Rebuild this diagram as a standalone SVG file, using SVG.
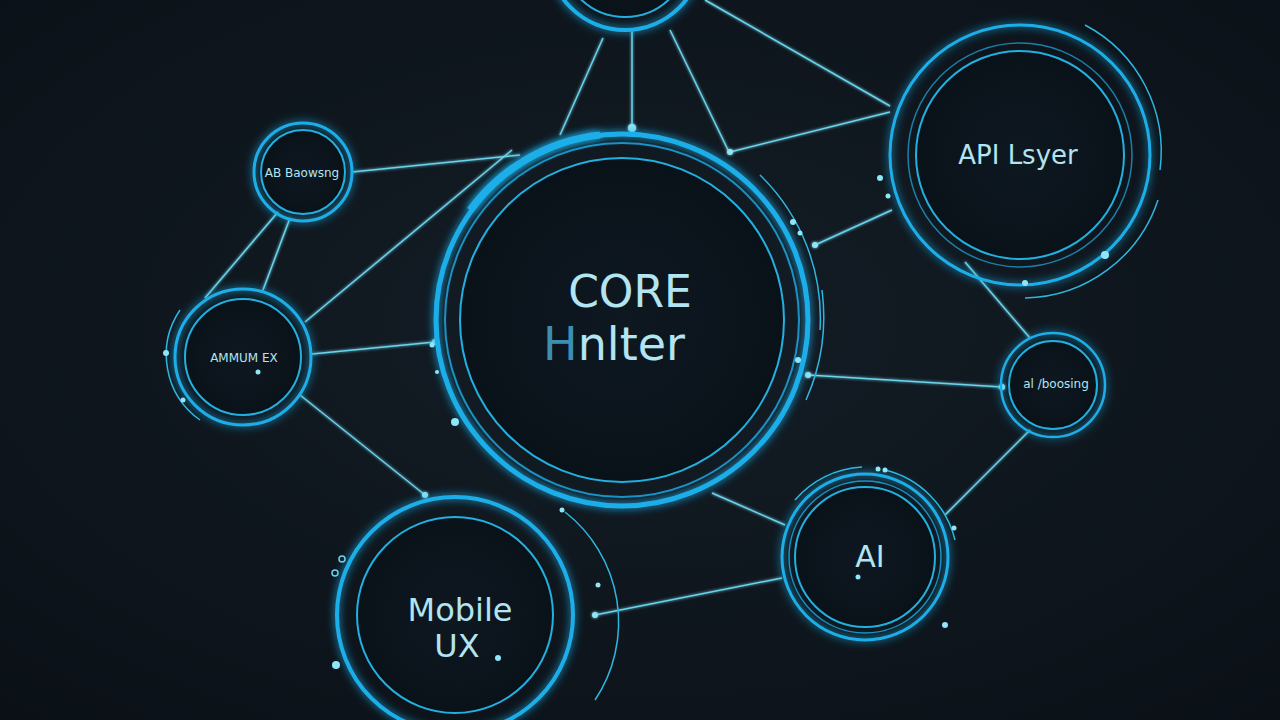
<svg xmlns="http://www.w3.org/2000/svg" width="1280" height="720" viewBox="0 0 1280 720">
<defs>
<radialGradient id="bg" cx="50%" cy="45%" r="75%">
<stop offset="0" stop-color="#141d26"/>
<stop offset="1" stop-color="#0a1016"/>
</radialGradient>
<radialGradient id="fillg" cx="50%" cy="50%" r="50%">
<stop offset="0" stop-color="#0e1821"/>
<stop offset="1" stop-color="#0a1219"/>
</radialGradient>
<filter id="glow" x="-30%" y="-30%" width="160%" height="160%">
<feGaussianBlur stdDeviation="4" result="b"/>
<feMerge><feMergeNode in="b"/><feMergeNode in="SourceGraphic"/></feMerge>
</filter>
<filter id="soft" x="-30%" y="-30%" width="160%" height="160%">
<feGaussianBlur stdDeviation="1.5" result="b"/>
<feMerge><feMergeNode in="b"/><feMergeNode in="SourceGraphic"/></feMerge>
</filter>
</defs>
<style>
.ring{fill:none;stroke:#1eaee8}
.thin{fill:none;stroke:#2bb8e0;stroke-width:1.5}
.disc{fill:url(#fillg);stroke:#22b0e0;stroke-width:2}
.conn{stroke:#6ad4ec;stroke-width:1.5;fill:none}
.dot{fill:#8ee6f8}
.lbl{font-family:"DejaVu Sans",sans-serif;fill:#b2e4f2;text-anchor:middle}
</style>
<rect width="1280" height="720" fill="url(#bg)"/>

<g id="connectors" filter="url(#soft)">
<line class="conn" x1="603" y1="38" x2="560" y2="135"/>
<line class="conn" x1="632" y1="30" x2="632" y2="128"/>
<line class="conn" x1="670" y1="30" x2="728" y2="150"/>
<line class="conn" x1="705" y1="0" x2="890" y2="106"/>
<line class="conn" x1="730" y1="152" x2="890" y2="112"/>
<line class="conn" x1="352" y1="172" x2="520" y2="155"/>
<line class="conn" x1="278" y1="212" x2="205" y2="298"/>
<line class="conn" x1="290" y1="218" x2="263" y2="290"/>
<line class="conn" x1="305" y1="322" x2="512" y2="150"/>
<line class="conn" x1="312" y1="354" x2="435" y2="342"/>
<line class="conn" x1="300" y1="395" x2="425" y2="495"/>
<line class="conn" x1="815" y1="245" x2="892" y2="210"/>
<line class="conn" x1="965" y1="262" x2="1030" y2="338"/>
<line class="conn" x1="808" y1="375" x2="1002" y2="387"/>
<line class="conn" x1="1030" y1="430" x2="945" y2="515"/>
<line class="conn" x1="712" y1="493" x2="785" y2="525"/>
<line class="conn" x1="782" y1="578" x2="595" y2="615"/>
<circle class="dot" cx="632" cy="128" r="4"/>
<circle class="dot" cx="730" cy="152" r="3"/>
<circle class="dot" cx="435" cy="342" r="3"/>
<circle class="dot" cx="815" cy="245" r="3"/>
<circle class="dot" cx="808" cy="375" r="3"/>
<circle class="dot" cx="425" cy="495" r="3"/>
<circle class="dot" cx="595" cy="615" r="3"/>
<circle class="dot" cx="1002" cy="387" r="3"/>
</g>

<g id="node-top">
<circle class="disc" cx="625" cy="-47" r="64"/>
<circle class="ring" cx="625" cy="-47" r="77" stroke-width="4" filter="url(#glow)"/>
</g>

<g id="node-core">
<circle class="ring" cx="622" cy="320" r="186" stroke-width="5" filter="url(#glow)"/>
<circle class="ring" cx="622" cy="320" r="177" stroke-width="2" opacity="0.8"/>
<circle class="disc" cx="622" cy="320" r="162"/>
<path class="ring" d="M470 210 A186 186 0 0 1 600 135" stroke-width="7" filter="url(#glow)"/>
<path class="thin" d="M760 175 A200 200 0 0 1 820 330"/>
<path class="thin" d="M822 290 A205 205 0 0 1 806 400"/>
<circle class="dot" cx="793" cy="222" r="3"/>
<circle class="dot" cx="800" cy="233" r="2.5"/>
<circle class="dot" cx="798" cy="360" r="3"/>
<circle class="dot" cx="432" cy="345" r="2.5"/>
<circle class="dot" cx="437" cy="372" r="2"/>
<circle class="dot" cx="455" cy="422" r="4"/>
<text class="lbl" x="630" y="307" font-size="44">CORE</text>
<text class="lbl" x="614" y="360" font-size="46"><tspan fill="#3c8fb0">H</tspan>nlter</text>
</g>

<g id="node-api">
<circle class="ring" cx="1020" cy="155" r="130" stroke-width="3" filter="url(#glow)"/>
<circle class="disc" cx="1020" cy="155" r="104"/>
<circle class="ring" cx="1020" cy="155" r="112" stroke-width="1.5" opacity="0.7"/>
<path class="thin" d="M1085 25 A143 143 0 0 1 1160 170"/>
<path class="thin" d="M1158 200 A143 143 0 0 1 1025 298"/>
<circle class="dot" cx="1105" cy="255" r="4"/>
<circle class="dot" cx="1025" cy="283" r="3"/>
<circle class="dot" cx="880" cy="178" r="3"/>
<circle class="dot" cx="888" cy="196" r="2.5"/>
<text class="lbl" x="1018" y="164" font-size="26">API Lsyer</text>
</g>

<g id="node-ab">
<circle class="ring" cx="303" cy="172" r="49" stroke-width="3" filter="url(#glow)"/>
<circle class="disc" cx="303" cy="172" r="42"/>
<text class="lbl" x="302" y="177" font-size="12">AB Baowsng</text>
</g>

<g id="node-left">
<circle class="ring" cx="243" cy="357" r="68" stroke-width="3" filter="url(#glow)"/>
<circle class="disc" cx="243" cy="357" r="58"/>
<path class="thin" d="M180 310 A80 80 0 0 0 200 420"/>
<circle class="dot" cx="166" cy="353" r="3"/>
<circle class="dot" cx="183" cy="400" r="2.5"/>
<circle class="dot" cx="258" cy="372" r="2.5"/>
<text class="lbl" x="244" y="362" font-size="12">AMMUM EX</text>
</g>

<g id="node-boost">
<circle class="ring" cx="1053" cy="385" r="52" stroke-width="2.5" filter="url(#glow)"/>
<circle class="disc" cx="1053" cy="385" r="44"/>
<text class="lbl" x="1056" y="388" font-size="12">al /boosing</text>
</g>

<g id="node-ai">
<circle class="ring" cx="865" cy="557" r="83" stroke-width="3" filter="url(#glow)"/>
<circle class="ring" cx="865" cy="557" r="76" stroke-width="1.5" opacity="0.8"/>
<circle class="disc" cx="865" cy="557" r="70"/>
<path class="thin" d="M795 500 A95 95 0 0 1 862 467"/>
<path class="thin" d="M885 470 A95 95 0 0 1 955 540"/>
<circle class="dot" cx="878" cy="469" r="2.5"/>
<circle class="dot" cx="885" cy="470" r="2.5"/>
<circle class="dot" cx="954" cy="528" r="2.5"/>
<circle class="dot" cx="945" cy="625" r="3"/>
<circle class="dot" cx="858" cy="577" r="2.5"/>
<text class="lbl" x="870" y="567" font-size="30">AI</text>
</g>

<g id="node-mobile">
<circle class="ring" cx="455" cy="615" r="118" stroke-width="4" filter="url(#glow)"/>
<circle class="disc" cx="455" cy="615" r="98"/>
<path class="thin" d="M565 512 A140 140 0 0 1 595 700"/>
<circle class="dot" cx="562" cy="510" r="2.5"/>
<circle class="dot" cx="598" cy="585" r="2.5"/>
<circle fill="none" stroke="#6ad4ec" stroke-width="1.5" cx="342" cy="559" r="3"/>
<circle fill="none" stroke="#6ad4ec" stroke-width="1.5" cx="335" cy="573" r="3"/>
<circle class="dot" cx="336" cy="665" r="4"/>
<circle class="dot" cx="498" cy="658" r="3"/>
<text class="lbl" x="460" y="621" font-size="32">Mobile</text>
<text class="lbl" x="457" y="657" font-size="32">UX</text>
</g>
</svg>
